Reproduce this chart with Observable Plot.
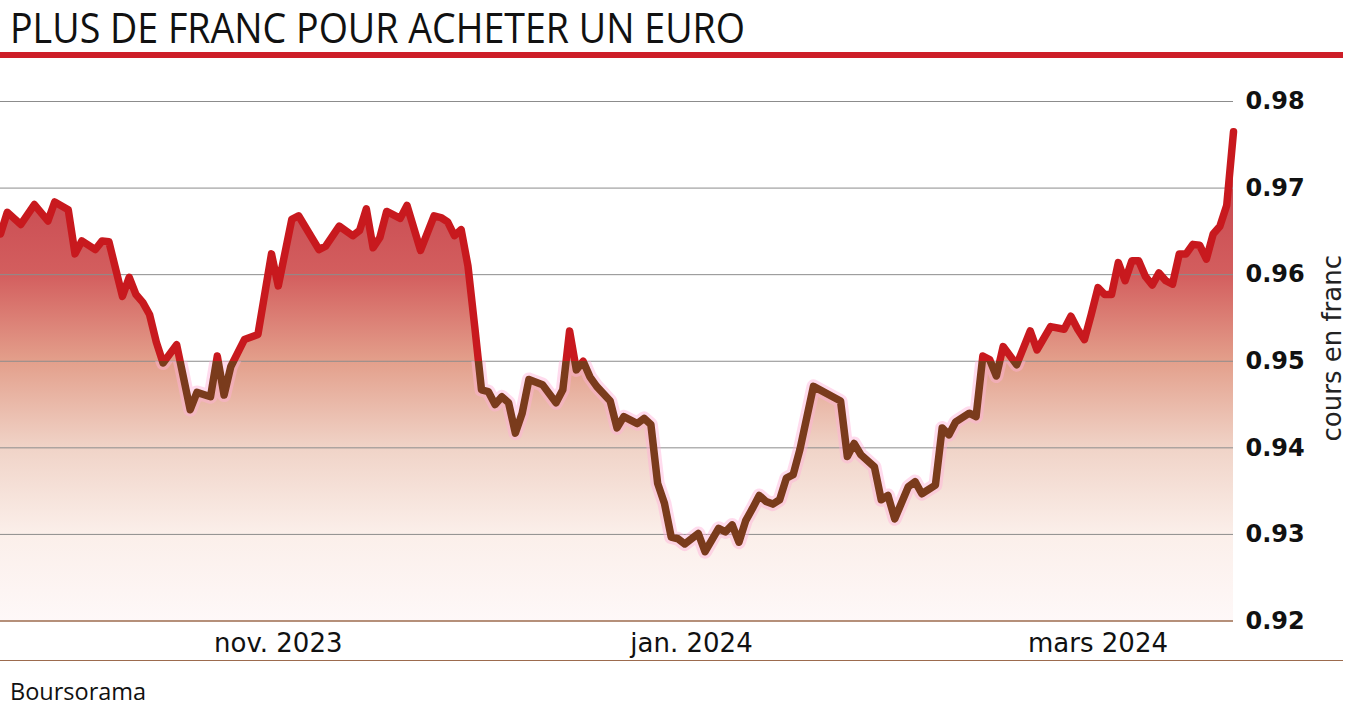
<!DOCTYPE html>
<html>
<head>
<meta charset="utf-8">
<script src="https://cdn.jsdelivr.net/npm/d3@7"></script>
<script src="https://cdn.jsdelivr.net/npm/@observablehq/plot@0.6"></script>
<style>
  html, body { margin: 0; padding: 0; background: #fff; }
  body { width: 1350px; height: 710px; position: relative; overflow: hidden; font-family: "DejaVu Sans", sans-serif; }
  #t { position: absolute; left: 10px; top: 6px; font-family: "Open Sans", sans-serif; font-weight: 400; font-size: 42px; line-height: 42px; color: #111; white-space: nowrap; transform-origin: 0 0; }
  #bar { position: absolute; left: 0; top: 52px; width: 1343px; height: 6px; background: #cd1e28; }
  #chart { position: absolute; left: 0; top: 60px; }
  #rule { position: absolute; left: 0; top: 659.5px; width: 1343px; height: 0; border-top: 1.6px solid #9c6b4e; }
  #source { position: absolute; left: 10px; top: 679px; font-family: "Open Sans", sans-serif; font-size: 23.5px; line-height: 24px; color: #111; }
</style>
</head>
<body>
<div id="t">PLUS DE FRANC POUR ACHETER UN EURO</div>
<div id="bar"></div>
<div id="chart"></div>
<div id="rule"></div>
<div id="source">Boursorama</div>
<script>
// ---- data (EUR/CHF) ----
const startDate = "2023-09-21";
const endOffset = 182; // days after startDate (2024-03-21)
const dayOffsets = [0,1,3,5,7,8,10,11,12,14,15,16,18,19,20,21,22,23,24,26,28,29,31,32,33,34,36,38,40,41,43,44,47,48,50,52,53,54,55,56,57,59,60,62,64,65,66,67,68,69,70,71,72,73,74,75,76,77,78,80,82,83,84,85,86,87,88,90,91,92,93,94,95,96,97,98,99,100,101,103,104,106,107,108,109,110,111,112,113,114,115,116,117,118,120,124,125,126,127,129,130,131,132,134,135,136,138,139,140,141,143,144,145,146,147,148,150,152,153,155,157,158,159,160,161,162,163,164,165,166,167,168,169,170,171,172,173,174,175,176,177,178,179,180,181,182];
const rates = [0.9647,0.9672,0.9658,0.9681,0.9662,0.9684,0.9675,0.9624,0.9639,0.9629,0.9639,0.9638,0.9575,0.9597,0.9577,0.9568,0.9554,0.9522,0.9498,0.9519,0.9444,0.9464,0.9459,0.9506,0.9461,0.9494,0.9525,0.9531,0.9624,0.9587,0.9664,0.9668,0.9629,0.9633,0.9656,0.9645,0.9651,0.9676,0.9631,0.9643,0.9673,0.9665,0.9680,0.9628,0.9668,0.9666,0.9661,0.9645,0.9652,0.9610,0.9540,0.9467,0.9465,0.9450,0.9459,0.9452,0.9417,0.9440,0.9479,0.9473,0.9452,0.9467,0.9535,0.9490,0.9500,0.9482,0.9471,0.9454,0.9423,0.9436,0.9432,0.9428,0.9434,0.9427,0.9359,0.9336,0.9297,0.9295,0.9289,0.9301,0.9280,0.9307,0.9303,0.9311,0.9291,0.9316,0.9330,0.9345,0.9338,0.9335,0.9340,0.9365,0.9369,0.9398,0.9471,0.9454,0.9390,0.9405,0.9392,0.9378,0.9340,0.9345,0.9318,0.9355,0.9361,0.9347,0.9357,0.9423,0.9415,0.9430,0.9440,0.9436,0.9506,0.9502,0.9483,0.9517,0.9496,0.9535,0.9513,0.9540,0.9537,0.9552,0.9537,0.9525,0.9554,0.9585,0.9577,0.9577,0.9614,0.9593,0.9616,0.9616,0.9598,0.9588,0.9602,0.9593,0.9589,0.9624,0.9624,0.9635,0.9634,0.9618,0.9647,0.9656,0.9680,0.9765];
const yTicks = [0.92, 0.93, 0.94, 0.95, 0.96, 0.97, 0.98];
const gridValues = [0.93, 0.94, 0.95, 0.96, 0.97, 0.98];
const xTickDates = ["2023-11-01", "2024-01-01", "2024-03-01"];
const xTickLabels = ["nov. 2023", "jan. 2024", "mars 2024"];
const colorThreshold = 0.95;

// ---- build ----
const DAY = 864e5;
const t0 = new Date(startDate + "T00:00:00Z").getTime();
const data = dayOffsets.map((d, i) => ({date: new Date(t0 + d * DAY), rate: rates[i]}));
const tickDates = xTickDates.map(s => new Date(s + "T00:00:00Z"));
const tickLabelOf = d => xTickLabels[tickDates.findIndex(t => +t === +d)];

const chart = Plot.plot({
  width: 1350,
  height: 600,
  marginTop: 41,
  marginBottom: 39.5,
  marginLeft: 0,
  marginRight: 117,
  style: {fontFamily: "DejaVu Sans", color: "#111", background: "transparent", overflow: "visible"},
  x: {type: "utc", domain: [new Date(t0), new Date(t0 + endOffset * DAY)]},
  y: {domain: [yTicks[0], yTicks[yTicks.length - 1]]},
  marks: [
    Plot.areaY(data, {x: "date", y1: yTicks[0], y2: "rate", fill: "url(#areaGrad)"}),
    Plot.ruleY(gridValues, {stroke: "#8c8c8c", strokeWidth: 1}),
    Plot.ruleY([yTicks[0]], {stroke: "#9c6b4e", strokeWidth: 1.6}),
    Plot.lineY(data, {x: "date", y: "rate", stroke: "url(#haloGrad)", strokeWidth: 14, strokeLinejoin: "round"}),
    Plot.lineY(data, {x: "date", y: "rate", stroke: "url(#lineGrad)", strokeWidth: 7.5, strokeLinejoin: "round", strokeLinecap: "round"}),
    Plot.axisY(yTicks, {anchor: "right", tickSize: 0, tickPadding: 12, tickFormat: d3.format(".2f"), fontSize: 24, fontWeight: "bold", label: null}),
    Plot.axisX(tickDates, {anchor: "bottom", tickSize: 0, tickPadding: 13, tickFormat: tickLabelOf, fontSize: 26, label: null}),
    Plot.text(["cours en franc"], {frameAnchor: "right", textAnchor: "middle", rotate: -90, dx: 99, dy: -13, fontSize: 26, fill: "#222"})
  ]
});

// gradients defined in y-space of the chart
const ys = chart.scale("y");
const lo = yTicks[0], hi = yTicks[yTicks.length - 1];
const off = v => (hi - v) / (hi - lo);
const NS = "http://www.w3.org/2000/svg";
const defs = document.createElementNS(NS, "defs");
function addGrad(id, stops) {
  const g = document.createElementNS(NS, "linearGradient");
  g.setAttribute("id", id);
  g.setAttribute("gradientUnits", "userSpaceOnUse");
  g.setAttribute("x1", 0); g.setAttribute("x2", 0);
  g.setAttribute("y1", ys.apply(hi)); g.setAttribute("y2", ys.apply(lo));
  for (const [v, c, o] of stops) {
    const s = document.createElementNS(NS, "stop");
    s.setAttribute("offset", off(v));
    s.setAttribute("stop-color", c);
    s.setAttribute("stop-opacity", o == null ? 1 : o);
    g.appendChild(s);
  }
  defs.appendChild(g);
}
addGrad("areaGrad", [[hi, "#c4424b"], [0.97, "#c94b52"], [0.96, "#d35e5e"], [0.95, "#e39f8b"], [0.94, "#f0d3c7"], [0.93, "#fbefea"], [lo, "#fef8f8"]]);
addGrad("lineGrad", [[hi, "#c8191e"], [colorThreshold, "#c8191e"], [colorThreshold, "#7a3b1c"], [lo, "#7a3b1c"]]);
addGrad("haloGrad", [[hi, "#ff9ecf", 0], [colorThreshold, "#ff9ecf", 0], [colorThreshold, "#ffb0d8", 0.45], [lo, "#ffb0d8", 0.45]]);
chart.insertBefore(defs, chart.firstChild);

document.getElementById("chart").appendChild(chart);

// fit title width to the reference (x 10 → 745)
const t = document.getElementById("t");
const w = t.getBoundingClientRect().width;
t.style.transform = `scaleX(${735 / w})`;
</script>
</body>
</html>
